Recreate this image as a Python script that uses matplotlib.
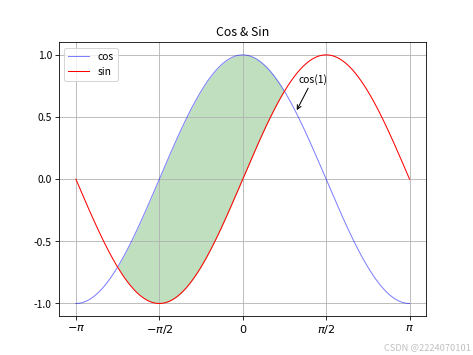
import numpy as np
import matplotlib.pyplot as plt

plt.rcParams['font.family'] = ['Noto Sans CJK SC', 'DejaVu Sans']
plt.rcParams['axes.unicode_minus'] = False

# curve samples
x = np.linspace(-np.pi, np.pi, 256)
c = np.cos(x)
s = np.sin(x)

xticks = [-np.pi, -np.pi / 2, 0, np.pi / 2, np.pi]
xticklabels = [r'$-\pi$', r'$-\pi/2$', r'$0$', r'$\pi/2$', r'$\pi$']
yticks = [-1, -0.5, 0, 0.5, 1]

fig = plt.figure(figsize=(6.4, 4.8), dpi=74)
ax = fig.add_subplot(111)
ax.plot(x, c, color='blue', alpha=0.5, linewidth=1, label='cos')
ax.plot(x, s, color='red', linewidth=1, label='sin')
ax.fill_between(x, c, s, where=c > s, color='green', alpha=0.25, linewidth=0)
ax.set_xticks(xticks)
ax.set_xticklabels(xticklabels, fontsize=11)
ax.set_yticks(yticks)
ax.grid(True)
ax.set_title('Cos & Sin')
ax.legend(loc='upper left')
ax.annotate('cos(1)', xy=(1, np.cos(1)), xytext=(1.05, 0.78),
            arrowprops=dict(arrowstyle='->', color='black'))
fig.text(0.995, 0.01, 'CSDN @2224070101', ha='right', va='bottom',
         fontsize=9, color='#c0c0c0')
fig.savefig('out.png')
